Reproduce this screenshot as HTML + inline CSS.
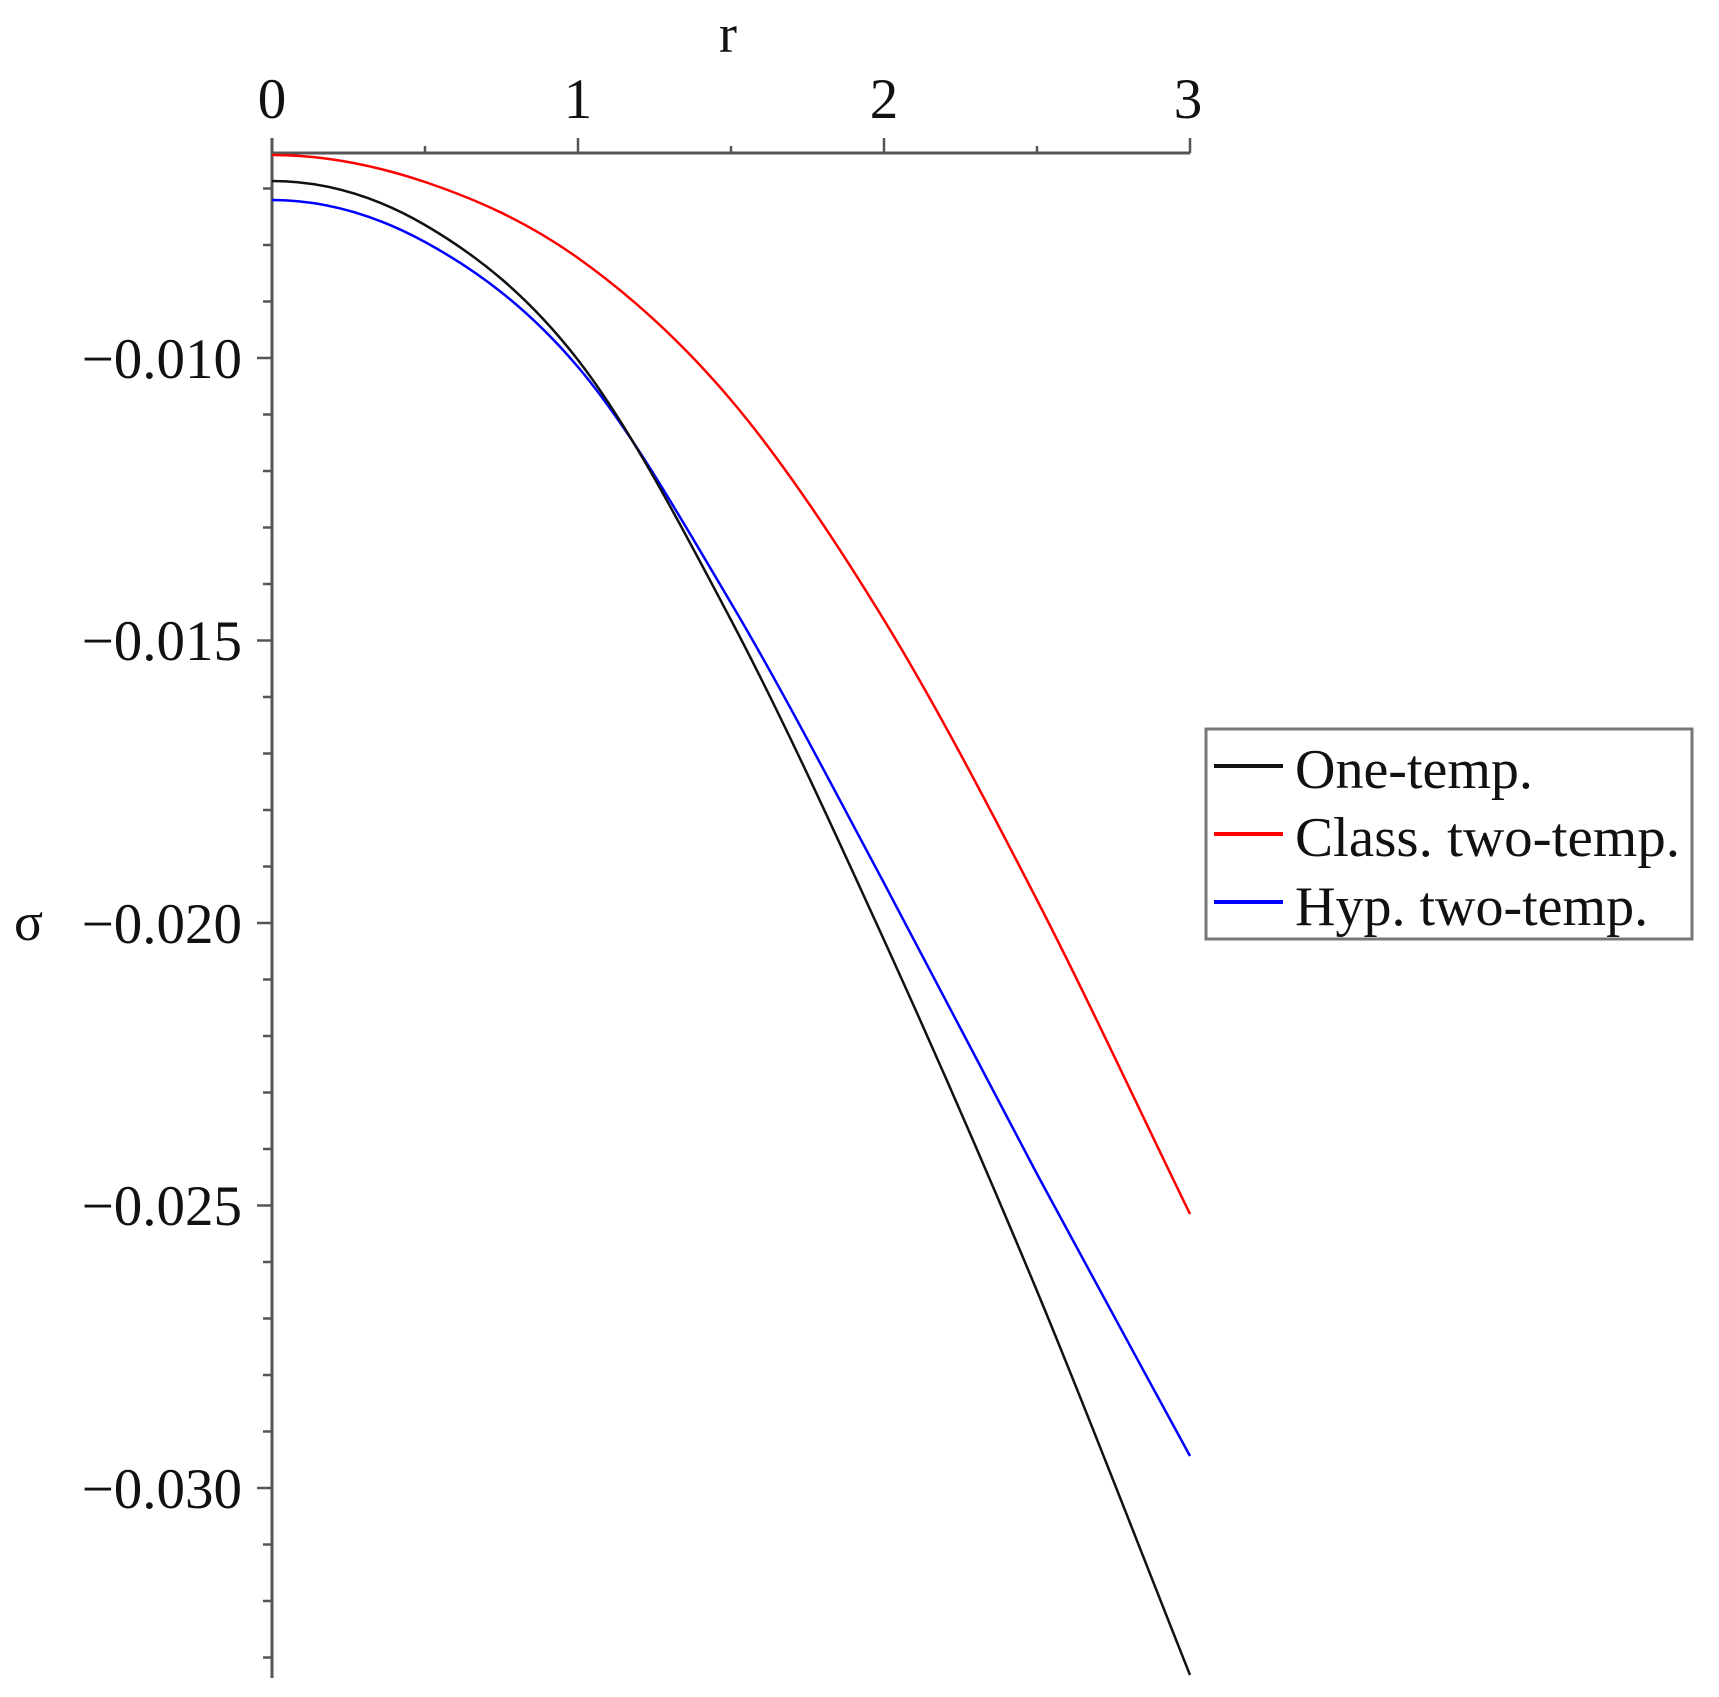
<!DOCTYPE html>
<html><head><style>html,body{margin:0;padding:0;background:#fff}svg{display:block}</style></head>
<body>
<svg id="s" width="1719" height="1697" xmlns="http://www.w3.org/2000/svg" font-family="Liberation Serif, serif">
<g stroke="#555" stroke-width="3" fill="none">
<line x1="272" y1="138" x2="272" y2="1678"/>
<line x1="272" y1="153" x2="1190" y2="153"/>
</g>
<g id="ticks" stroke="#555" stroke-width="2.5"></g>
<g font-size="57" fill="#111" text-anchor="middle">
<text x="272" y="118">0</text><text x="578" y="118">1</text><text x="884" y="118">2</text><text x="1188" y="118">3</text>
<text x="728" y="52" font-size="54">r</text>
</g>
<g font-size="57" fill="#111" text-anchor="end">
<text x="242" y="378">−0.010</text>
<text x="242" y="660">−0.015</text>
<text x="242" y="943">−0.020</text>
<text x="242" y="1225">−0.025</text>
<text x="242" y="1508">−0.030</text>
</g>
<text x="14" y="940" font-size="54" fill="#111">σ</text>
<path id="red" stroke="#ff0000" stroke-width="2.5" fill="none"/>
<path id="blue" stroke="#0000ff" stroke-width="2.5" fill="none"/>
<path id="black" stroke="#111" stroke-width="2.5" fill="none"/>
<rect x="1206" y="729" width="486" height="210" fill="none" stroke="#777" stroke-width="3"/>
<line x1="1214" y1="766" x2="1283" y2="766" stroke="#111" stroke-width="4"/>
<line x1="1214" y1="834" x2="1283" y2="834" stroke="#ff0000" stroke-width="4"/>
<line x1="1214" y1="902" x2="1283" y2="902" stroke="#0000ff" stroke-width="4"/>
<g font-size="56" fill="#111">
<text x="1295" y="788">One-temp.</text>
<text x="1295" y="856" textLength="385" lengthAdjust="spacingAndGlyphs">Class. two-temp.</text>
<text x="1295" y="925">Hyp. two-temp.</text>
</g>
</svg>
<script>
var g=document.getElementById('ticks'),ns='http://www.w3.org/2000/svg';
function L(x1,y1,x2,y2){var l=document.createElementNS(ns,'line');l.setAttribute('x1',x1);l.setAttribute('y1',y1);l.setAttribute('x2',x2);l.setAttribute('y2',y2);g.appendChild(l);}
for(var i=0;i<=6;i++){var x=272+153*i;L(x,153,x,i%2?146:138);}
for(var k=7;k<=33;k++){var y=358+(k-10)*56.5;if(y>1678)break;L(k%5==0?257:263,y,272,y);}
function cr(p){var d='M'+p[0][0]+','+p[0][1];for(var i=0;i<p.length-1;i++){
var p1=p[i],p2=p[i+1];var p0=i>0?p[i-1]:[2*p1[0]-p2[0],p2[1]];var p3=p[i+2]||[2*p2[0]-p1[0],2*p2[1]-p1[1]];
d+=' C'+(p1[0]+(p2[0]-p0[0])/6)+','+(p1[1]+(p2[1]-p0[1])/6)+' '+(p2[0]-(p3[0]-p1[0])/6)+','+(p2[1]-(p3[1]-p1[1])/6)+' '+p2[0]+','+p2[1];}return d;}
function P(ys){return ys.map(function(y,i){return [272+153*i,y];});}
document.getElementById('red').setAttribute('d',cr(P([155,182,258,400,620,900,1214])));
document.getElementById('black').setAttribute('d',cr(P([181,225,360,620,940,1291,1675])));
document.getElementById('blue').setAttribute('d',cr(P([200,242,367,603,883,1174,1456])));
</script>
</body></html>
